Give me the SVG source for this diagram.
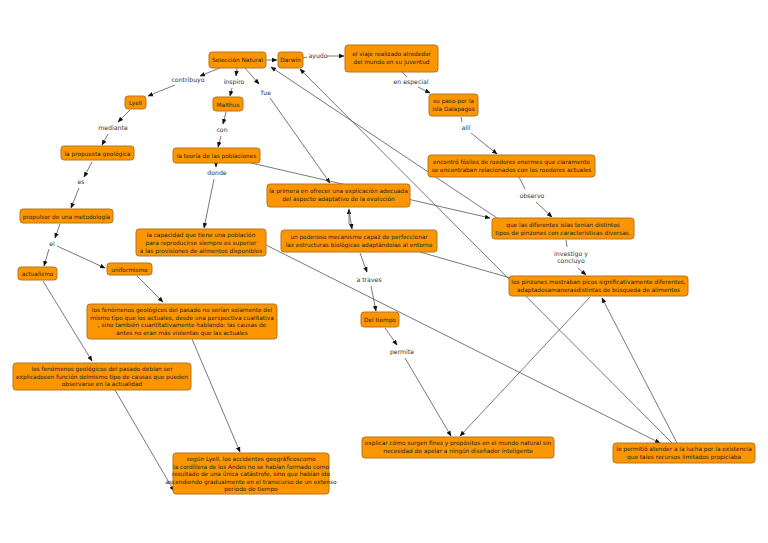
<svg xmlns="http://www.w3.org/2000/svg" width="768" height="543" viewBox="0 0 768 543">
<style>
.n rect{fill:#fb9600;stroke:#b8741c;stroke-width:1}
text{font-family:"DejaVu Sans",Verdana,sans-serif;font-size:5.8px;fill:#222;text-anchor:middle}
.l text{fill:#333;font-size:6.2px}
#c line{stroke:#555;stroke-width:0.8;fill:none}
</style>
<defs><marker id="a" viewBox="0 0 10 10" refX="9" refY="5" markerWidth="7" markerHeight="7" orient="auto"><path d="M0,1L10,5L0,9z" fill="#111"/></marker></defs>
<rect width="768" height="543" fill="#fff"/>
<g id="c">
<line x1="266" y1="60" x2="277" y2="60" marker-end="url(#a)"/>
<line x1="327" y1="56" x2="344" y2="56" marker-end="url(#a)"/>
<line x1="303" y1="58" x2="307" y2="57"/>
<line x1="402" y1="72" x2="407" y2="77"/><line x1="418" y1="87" x2="430" y2="93" marker-end="url(#a)"/>
<line x1="461" y1="117" x2="462" y2="122"/><line x1="471" y1="133" x2="497" y2="154" marker-end="url(#a)"/>
<line x1="519" y1="177" x2="525" y2="189"/><line x1="536" y1="202" x2="552" y2="217" marker-end="url(#a)"/>
<line x1="566" y1="240" x2="567" y2="247"/><line x1="578" y1="268" x2="586" y2="275" marker-end="url(#a)"/>
<line x1="222" y1="67" x2="200" y2="76" marker-end="url(#a)"/><line x1="175" y1="85" x2="148" y2="96" marker-end="url(#a)"/>
<line x1="237" y1="68" x2="236" y2="76" marker-end="url(#a)"/><line x1="232" y1="88" x2="230" y2="96" marker-end="url(#a)"/>
<line x1="245" y1="68" x2="259" y2="84" marker-end="url(#a)"/><line x1="270" y1="98" x2="330" y2="183" marker-end="url(#a)"/>
<line x1="130" y1="110" x2="118" y2="122" marker-end="url(#a)"/><line x1="108" y1="134" x2="102" y2="145" marker-end="url(#a)"/>
<line x1="92" y1="162" x2="84" y2="177" marker-end="url(#a)"/><line x1="79" y1="188" x2="71" y2="208" marker-end="url(#a)"/>
<line x1="60" y1="224" x2="55" y2="238" marker-end="url(#a)"/>
<line x1="49" y1="249" x2="44" y2="266" marker-end="url(#a)"/><line x1="57" y1="246" x2="105" y2="268" marker-end="url(#a)"/>
<line x1="43" y1="281" x2="92" y2="361" marker-end="url(#a)"/>
<line x1="137" y1="276" x2="163" y2="302" marker-end="url(#a)"/>
<line x1="115" y1="390" x2="174" y2="491" marker-end="url(#a)"/>
<line x1="192" y1="339" x2="240" y2="452" marker-end="url(#a)"/>
<line x1="226" y1="112" x2="223" y2="124" marker-end="url(#a)"/><line x1="221" y1="136" x2="218" y2="147" marker-end="url(#a)"/>
<line x1="216" y1="164" x2="216" y2="167" marker-end="url(#a)"/><line x1="214" y1="179" x2="204" y2="228" marker-end="url(#a)"/>
<line x1="251" y1="163" x2="490" y2="218" marker-end="url(#a)"/>
<line x1="349" y1="224" x2="349" y2="209" marker-end="url(#a)"/><line x1="349" y1="210" x2="352" y2="229" marker-end="url(#a)"/>
<line x1="360" y1="253" x2="367" y2="272" marker-end="url(#a)"/><line x1="371" y1="286" x2="376" y2="311" marker-end="url(#a)"/>
<line x1="385" y1="328" x2="397" y2="345" marker-end="url(#a)"/><line x1="405" y1="358" x2="451" y2="436" marker-end="url(#a)"/>
<line x1="420" y1="252" x2="535" y2="285" marker-end="url(#a)"/>
<line x1="266" y1="245" x2="660" y2="443" marker-end="url(#a)"/>
<line x1="590" y1="297" x2="460" y2="436" marker-end="url(#a)"/>
<line x1="677" y1="443" x2="602" y2="298" marker-end="url(#a)"/>
<line x1="672" y1="443" x2="300" y2="69" marker-end="url(#a)"/>
<line x1="497" y1="218" x2="271" y2="67" marker-end="url(#a)"/>
</g>
<g class="l">
<text x="188" y="82">contribuyo</text><text x="234" y="84">inspiro</text><text x="266" y="95">fue</text>
<text x="318" y="58">ayudo</text><text x="411" y="84">en especial</text><text x="466" y="130">allí</text>
<text x="532" y="198">observo</text><text x="571" y="256">investigo y</text><text x="571" y="263">concluyo</text>
<text x="113" y="130">mediante</text><text x="81" y="184">es</text><text x="52" y="246">el</text>
<text x="222" y="132">con</text><text x="217" y="175">donde</text><text x="369" y="282">a traves</text><text x="402" y="354">permite</text>
</g>
<g id="sn" class="n"><rect x="209" y="52" width="57" height="16" rx="3"/><text x="237.5" y="62">Selección Natural</text></g>
<g id="darwin" class="n"><rect x="278" y="52" width="25" height="16" rx="3"/><text x="290.5" y="62">Darwin</text></g>
<g id="viaje" class="n"><rect x="345" y="45" width="93" height="27" rx="3"/><text x="391.5" y="56">el viaje realizado alrededor</text><text x="391.5" y="64">del mundo en su juventud</text></g>
<g id="paso" class="n"><rect x="429" y="94" width="49" height="22" rx="3"/><text x="453.5" y="103">su paso por la</text><text x="453.5" y="111">isla Galapagos</text></g>
<g id="encontro" class="n"><rect x="428" y="155" width="167" height="22" rx="3"/><text x="511.5" y="164">encontró fósiles de roedores enormes que claramente</text><text x="511.5" y="172">se encontraban relacionados con los roedores actuales</text></g>
<g id="islas" class="n"><rect x="492" y="218" width="142" height="21" rx="3"/><text x="563" y="227">que las diferentes islas tenían distintos</text><text x="563" y="235">tipos de pinzones con características diversas.</text></g>
<g id="pinzones" class="n"><rect x="509" y="276" width="179" height="20" rx="3"/><text x="598.5" y="284">los pinzones mostraban picos significativamente diferentes,</text><text x="598.5" y="292">adaptadosamanerasdistintas de búsqueda de alimentos</text></g>
<g id="permitio" class="n"><rect x="613" y="443" width="142" height="20" rx="3"/><text x="684" y="451">le permitió atender a la lucha por la existencia</text><text x="684" y="459">que tales recursos limitados propiciaba</text></g>
<g id="explicar" class="n"><rect x="362" y="437" width="192" height="21" rx="3"/><text x="458" y="445">explicar cómo surgen fines y propósitos en el mundo natural sin</text><text x="458" y="453">necesidad de apelar a ningún diseñador inteligente</text></g>
<g id="tiempo" class="n"><rect x="361" y="312" width="38" height="15" rx="3"/><text x="380" y="322">Del tiempo</text></g>
<g id="poderoso" class="n"><rect x="281" y="230" width="156" height="22" rx="3"/><text x="359" y="239">un poderoso mecanismo capaz de perfeccionar</text><text x="359" y="247">las estructuras biológicas adaptándolas al entorno</text></g>
<g id="primera" class="n"><rect x="267" y="184" width="143" height="23" rx="3"/><text x="338.5" y="193">la primera en ofrecer una explicación adecuada</text><text x="338.5" y="201">del aspecto adaptativo de la evolución</text></g>
<g id="capacidad" class="n"><rect x="136" y="229" width="130" height="27" rx="3"/><text x="201" y="237">la capacidad que tiene una población</text><text x="201" y="245">para reproducirse siempre es superior</text><text x="201" y="253">a las provisiones de alimentos disponibles</text></g>
<g id="teoria" class="n"><rect x="173" y="148" width="87" height="15" rx="3"/><text x="216.5" y="158">la teoría de las poblaciones</text></g>
<g id="malthus" class="n"><rect x="213" y="97" width="30" height="14" rx="3"/><text x="228" y="106.5">Malthus</text></g>
<g id="lyell" class="n"><rect x="125" y="96" width="21" height="13" rx="3"/><text x="135.5" y="105">Lyell</text></g>
<g id="propuesta" class="n"><rect x="61" y="146" width="73" height="14" rx="3"/><text x="97.5" y="155.5">la propuesta geológica</text></g>
<g id="propulsor" class="n"><rect x="20" y="209" width="93" height="14" rx="3"/><text x="66.5" y="218.5">propulsor de una metodología</text></g>
<g id="actualismo" class="n"><rect x="18" y="267" width="39" height="13" rx="3"/><text x="37.5" y="276">actualismo</text></g>
<g id="uniformismo" class="n"><rect x="107" y="263" width="45" height="12" rx="3"/><text x="129.5" y="271.5">uniformismo</text></g>
<g id="noserian" class="n"><rect x="87" y="304" width="190" height="35" rx="3"/><text x="182" y="312">los fenómenos geológicos del pasado no serían solamente del</text><text x="182" y="319.5">mismo tipo que los actuales, desde una perspectiva cualitativa</text><text x="182" y="327">, sino también cuantitativamente hablando: las causas de</text><text x="182" y="334.5">antes no eran más violentas que las actuales</text></g>
<g id="debian" class="n"><rect x="13" y="363" width="178" height="27" rx="3"/><text x="102" y="371">los fenómenos geológicos del pasado debían ser</text><text x="102" y="378.5">explicadosen función delmismo tipo de causas que pueden</text><text x="102" y="386">observarse en la actualidad</text></g>
<g id="segun" class="n"><rect x="173" y="453" width="156" height="41" rx="3"/><text x="251" y="461">según Lyell, los accidentes geográficoscomo</text><text x="251" y="468.5">la cordillera de los Andes no se habían formado como</text><text x="251" y="476">resultado de una única catástrofe, sino que habían ido</text><text x="251" y="483.5">ascendiendo gradualmente en el transcurso de un extenso</text><text x="251" y="491">periodo de tiempo</text></g>
</svg>
